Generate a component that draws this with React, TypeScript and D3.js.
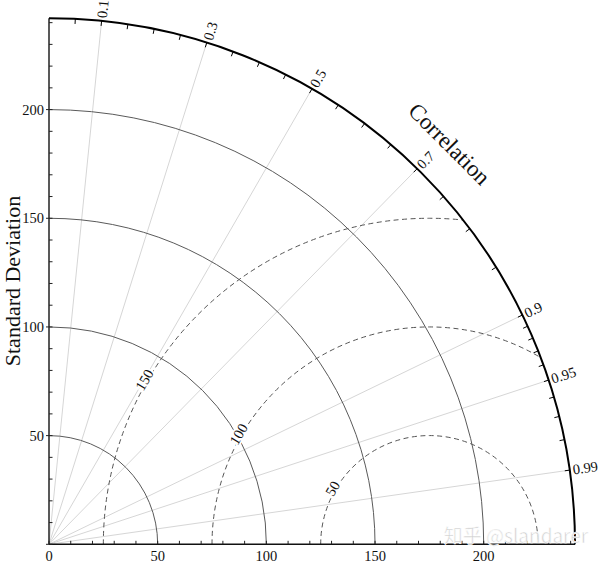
import React from "react";
import * as d3 from "d3";

// ---- data ----
const stdArcs = [50, 100, 150, 200];
const rmsCircles = [50, 100, 150];
const rmsLabels = ["50", "100", "150"];
const refStd = 175;
const maxStd = 242;
const corrLines = [0.1, 0.3, 0.5, 0.7, 0.9, 0.95, 0.99];
const corrLabels = ["0.1", "0.3", "0.5", "0.7", "0.9", "0.95", "0.99"];
const corrTicks = [
  0.05, 0.1, 0.15, 0.2, 0.25, 0.3, 0.35, 0.4, 0.45, 0.5, 0.55, 0.6, 0.65, 0.7,
  0.75, 0.8, 0.85, 0.9, 0.91, 0.92, 0.93, 0.94, 0.95, 0.96, 0.97, 0.98, 0.99,
];
const axisMajor = [0, 50, 100, 150, 200];
const axisMinor = [
  10, 20, 30, 40, 60, 70, 80, 90, 110, 120, 130, 140, 160, 170, 180, 190, 210,
  220, 230, 240,
];

const W = 600;
const H = 563;
const ox = 49;
const oy = 544.3;
const SERIF = "'Liberation Serif', 'Times New Roman', serif";

export default function App() {
  const r = d3.scaleLinear().domain([0, maxStd]).range([0, 526]);
  const R = r(maxStd);
  const pt = (s: number, c: number) => {
    const th = Math.acos(c);
    return [ox + r(s) * Math.cos(th), oy - r(s) * Math.sin(th)];
  };
  const quarter = (rr: number) => {
    const p = d3.path();
    p.moveTo(ox, oy - rr);
    p.arc(ox, oy, rr, -Math.PI / 2, 0);
    return p.toString();
  };
  const cx = ox + r(refStd);
  const semi = (rr: number) => {
    const p = d3.path();
    p.moveTo(cx - rr, oy);
    p.arc(cx, oy, rr, Math.PI, 2 * Math.PI);
    return p.toString();
  };
  const clip = (() => {
    const p = d3.path();
    p.moveTo(ox, oy);
    p.lineTo(ox, oy - R);
    p.arc(ox, oy, R, -Math.PI / 2, 0);
    p.closePath();
    return p.toString();
  })();

  return (
    <svg
      width={W}
      height={H}
      style={{ position: "absolute", left: 0, top: 0, background: "#fff" }}
      fontFamily={SERIF}
    >
      <defs>
        <clipPath id="quad">
          <path d={clip} />
        </clipPath>
      </defs>
      {/* correlation lines */}
      {corrLines.map((c) => {
        const [x, y] = pt(maxStd, c);
        return (
          <line key={c} x1={ox} y1={oy} x2={x} y2={y} stroke="#d6d6d6" strokeWidth={1} />
        );
      })}
      {/* std arcs */}
      {stdArcs.map((s) => (
        <path key={s} d={quarter(r(s))} fill="none" stroke="#5a5a5a" strokeWidth={1} />
      ))}
      {/* rms circles */}
      <g clipPath="url(#quad)">
        {rmsCircles.map((s) => (
          <path
            key={s}
            d={semi(r(s))}
            fill="none"
            stroke="#555"
            strokeWidth={1}
            strokeDasharray="5,3.5"
          />
        ))}
      </g>
      {rmsCircles.map((s, i) => {
        const a = (150 * Math.PI) / 180;
        const rr = r(s) + 3;
        const x = cx + rr * Math.cos(a);
        const y = oy - rr * Math.sin(a);
        return (
          <text
            key={s}
            x={x}
            y={y}
            transform={`rotate(-60 ${x} ${y})`}
            textAnchor="middle"
            dominantBaseline="central"
            fontSize={14.5}
            fill="#111"
            stroke="#fff"
            strokeWidth={4}
            paintOrder="stroke"
          >
            {rmsLabels[i]}
          </text>
        );
      })}
      {/* axes */}
      <line x1={ox} y1={oy} x2={ox} y2={oy - R} stroke="#222" strokeWidth={1.5} />
      <line x1={ox} y1={oy} x2={ox + R} y2={oy} stroke="#111" strokeWidth={1.5} />
      <path d={quarter(R)} fill="none" stroke="#000" strokeWidth={2} />
      {/* axis ticks */}
      {axisMinor.map((s) => (
        <g key={s}>
          <line x1={ox} x2={ox + 3.5} y1={oy - r(s)} y2={oy - r(s)} stroke="#222" strokeWidth={1} />
          <line x1={ox + r(s)} x2={ox + r(s)} y1={oy} y2={oy - 3.5} stroke="#222" strokeWidth={1} />
        </g>
      ))}
      {axisMajor.map((s) => (
        <g key={s}>
          <line x1={ox - 3} x2={ox + 3.5} y1={oy - r(s)} y2={oy - r(s)} stroke="#222" strokeWidth={1} />
          <line x1={ox + r(s)} x2={ox + r(s)} y1={oy} y2={oy - 3.5} stroke="#222" strokeWidth={1} />
          <text x={ox + r(s)} y={561} textAnchor="middle" fontSize={14.5} fill="#111">
            {s}
          </text>
          {s > 0 && (
            <text
              x={ox - 5}
              y={oy - r(s)}
              textAnchor="end"
              dominantBaseline="central"
              fontSize={14.5}
              fill="#111"
            >
              {s}
            </text>
          )}
        </g>
      ))}
      {/* correlation ticks */}
      {corrTicks.map((c) => {
        const th = Math.acos(c);
        return (
          <line
            key={c}
            x1={ox + R * Math.cos(th)}
            y1={oy - R * Math.sin(th)}
            x2={ox + (R - 5) * Math.cos(th)}
            y2={oy - (R - 5) * Math.sin(th)}
            stroke="#000"
            strokeWidth={1}
          />
        );
      })}
      {corrLines.map((c, i) => {
        const th = Math.acos(c);
        const x = ox + (R + 3) * Math.cos(th);
        const y = oy - (R + 3) * Math.sin(th);
        const deg = (th * 180) / Math.PI;
        return (
          <text
            key={c}
            x={x}
            y={y}
            transform={`rotate(${-deg} ${x} ${y})`}
            dominantBaseline="central"
            fontSize={14.5}
            fill="#111"
          >
            {corrLabels[i]}
          </text>
        );
      })}
      {/* axis titles */}
      {(() => {
        const a = Math.PI / 4;
        const x = ox + (R + 40) * Math.cos(a);
        const y = oy - (R + 40) * Math.sin(a);
        return (
          <text
            x={x}
            y={y}
            transform={`rotate(45 ${x} ${y})`}
            textAnchor="middle"
            dominantBaseline="central"
            fontSize={23}
            fill="#111"
          >
            Correlation
          </text>
        );
      })()}
      <text
        x={12}
        y={281}
        transform="rotate(-90 12 281)"
        textAnchor="middle"
        dominantBaseline="central"
        fontSize={22}
        fill="#111"
      >
        Standard Deviation
      </text>
      <text
        x={516}
        y={543}
        textAnchor="middle"
        fontSize={19}
        fontFamily="'Noto Sans CJK SC', sans-serif"
        fill="#d0d0d0"
        stroke="#fff"
        strokeWidth={0.6}
      >
        知乎 @slandarer
      </text>
    </svg>
  );
}
